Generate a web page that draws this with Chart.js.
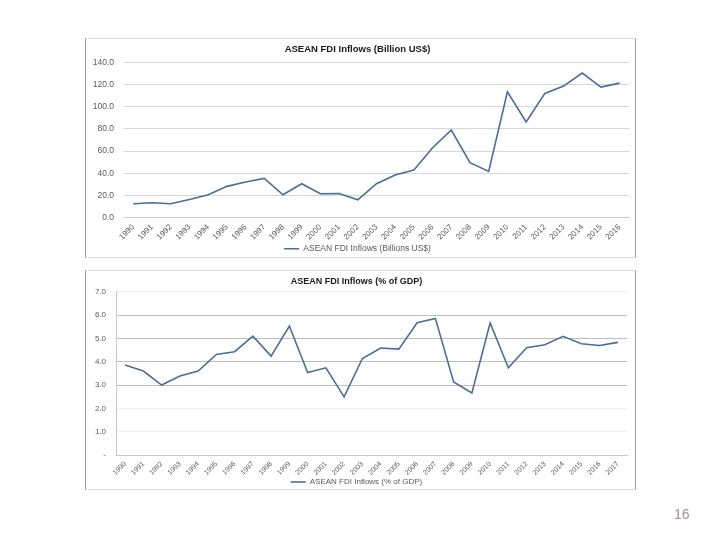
<!DOCTYPE html>
<html>
<head>
<meta charset="utf-8">
<script src="https://cdn.jsdelivr.net/npm/chart.js@4.4.1/dist/chart.umd.min.js"></script>
<style>
  body { margin:0; background:#fff; width:720px; height:540px; position:relative; overflow:hidden; }
  .box { position:absolute; left:85px; width:551px; height:220px;
         border-left:1px solid #9c9c9c; border-right:1px solid #9c9c9c;
         border-top:1px solid #dcdcdc; border-bottom:1px solid #dcdcdc; box-sizing:border-box; }
  .box canvas { position:absolute; left:0; top:0; }
  #pg { position:absolute; left:674px; top:506px; font:14px "Liberation Sans", sans-serif; color:#999; }
</style>
</head>
<body>
<div class="box" style="top:38px"><canvas id="chartUsd" width="549" height="218"></canvas></div>
<div class="box" style="top:270px"><canvas id="chartGdp" width="549" height="218"></canvas></div>
<div id="pg">16</div>
<script>
// =========================================
// DATOS
// =========================================
const anios1 = ['1990','1991','1992','1993','1994','1995','1996','1997','1998','1999',
  '2000','2001','2002','2003','2004','2005','2006','2007','2008','2009',
  '2010','2011','2012','2013','2014','2015','2016'];

const fdiBillones = [12.4, 13.3, 12.4, 16.3, 20.5, 28.1, 32.0, 35.3, 20.5, 30.5,
  21.4, 21.7, 16.0, 30.5, 38.3, 42.8, 63.0, 79.0, 49.5, 41.6,
  113.5, 86.3, 112.0, 118.6, 130.4, 117.7, 121.3];

const anios2 = ['1990','1991','1992','1993','1994','1995','1996','1997','1998','1999',
  '2000','2001','2002','2003','2004','2005','2006','2007','2008','2009',
  '2010','2011','2012','2013','2014','2015','2016','2017'];

const fdiPib = [3.86, 3.60, 3.00, 3.39, 3.60, 4.31, 4.43, 5.10, 4.24, 5.53,
  3.54, 3.74, 2.49, 4.14, 4.59, 4.54, 5.67, 5.86, 3.13, 2.66,
  5.66, 3.74, 4.60, 4.73, 5.09, 4.77, 4.70, 4.83];

const FONT = '"Liberation Sans", Arial, sans-serif';
const AZUL = '#4a6e9a';
const GRIS = '#5a5a5a';

function opciones(cfg){
  return {
    responsive:false,
    devicePixelRatio:1,
    animation:false,
    layout:{ padding:{ left:0, right:cfg.right, top:0, bottom:cfg.abajo } },
    plugins:{
      title:{
        display:true,
        text:cfg.titulo,
        color:'#1a1a1a',
        font:{ family:FONT, size:cfg.tituloSize, weight:'bold' },
        padding:{ top:5, bottom:cfg.tituloBottom }
      },
      legend:{
        position:'bottom',
        labels:{
          usePointStyle:true, pointStyle:'line', pointStyleWidth:15,
          padding:0,
          color:GRIS,
          font:{ family:FONT, size:cfg.leyendaSize }
        }
      },
      tooltip:{ enabled:false }
    },
    scales:{
      x:{
        offset:true,
        grid:{ display:false, drawTicks:false },
        border:{ display:true, color:'#c8c8c8' },
        ticks:{ color:GRIS, font:{ family:FONT, size:cfg.xSize }, minRotation:45, maxRotation:45, padding:5, autoSkip:false },
        afterFit: s => { s.height = cfg.xAlto; }
      },
      y:{
        min:0, max:cfg.max,
        ticks:{ stepSize:cfg.paso, color:GRIS, font:{ family:FONT, size:cfg.ySize }, padding:10, callback:cfg.formato },
        grid:{ drawTicks:false, color:cfg.colorGrid },
        border:{ display:cfg.ejeY, color:'#c8c8c8' },
        afterFit: s => { s.width = cfg.yAncho; }
      }
    }
  };
}

// =========================================
// BILLONES US$
// =========================================
new Chart(document.getElementById('chartUsd'), {
  type:'line',
  data:{
    labels:anios1,
    datasets:[{
      label:'ASEAN FDI Inflows (Billions US$)',
      data:fdiBillones,
      borderColor:AZUL, backgroundColor:AZUL,
      borderWidth:1.6, pointRadius:0, tension:0, fill:false
    }]
  },
  options:opciones({
    titulo:'ASEAN FDI Inflows (Billion US$)',
    tituloSize:9.5, tituloBottom:7, right:6, xAlto:27, yAncho:38, abajo:-6,
    xSize:8, ySize:8.5, leyendaSize:8.5,
    max:140, paso:20, ejeY:false,
    colorGrid:'#d6d6d6',
    formato: v => v.toFixed(1)
  })
});

// =========================================
// % DEL PIB
// =========================================
new Chart(document.getElementById('chartGdp'), {
  type:'line',
  data:{
    labels:anios2,
    datasets:[{
      label:'ASEAN FDI Inflows (% of GDP)',
      data:fdiPib,
      borderColor:AZUL, backgroundColor:AZUL,
      borderWidth:1.6, pointRadius:0, tension:0, fill:false
    }]
  },
  options:opciones({
    titulo:'ASEAN FDI Inflows (% of GDP)',
    tituloSize:9, tituloBottom:5, right:8, xAlto:23, yAncho:30, abajo:-7,
    xSize:7, ySize:8, leyendaSize:8,
    max:7, paso:1, ejeY:true,
    colorGrid: c => (c.tick && c.tick.value >= 3 && c.tick.value <= 6) ? '#bdbdbd' : '#eeeeee',
    formato: v => v === 0 ? '-' : v.toFixed(1)
  })
});
</script>
</body>
</html>
